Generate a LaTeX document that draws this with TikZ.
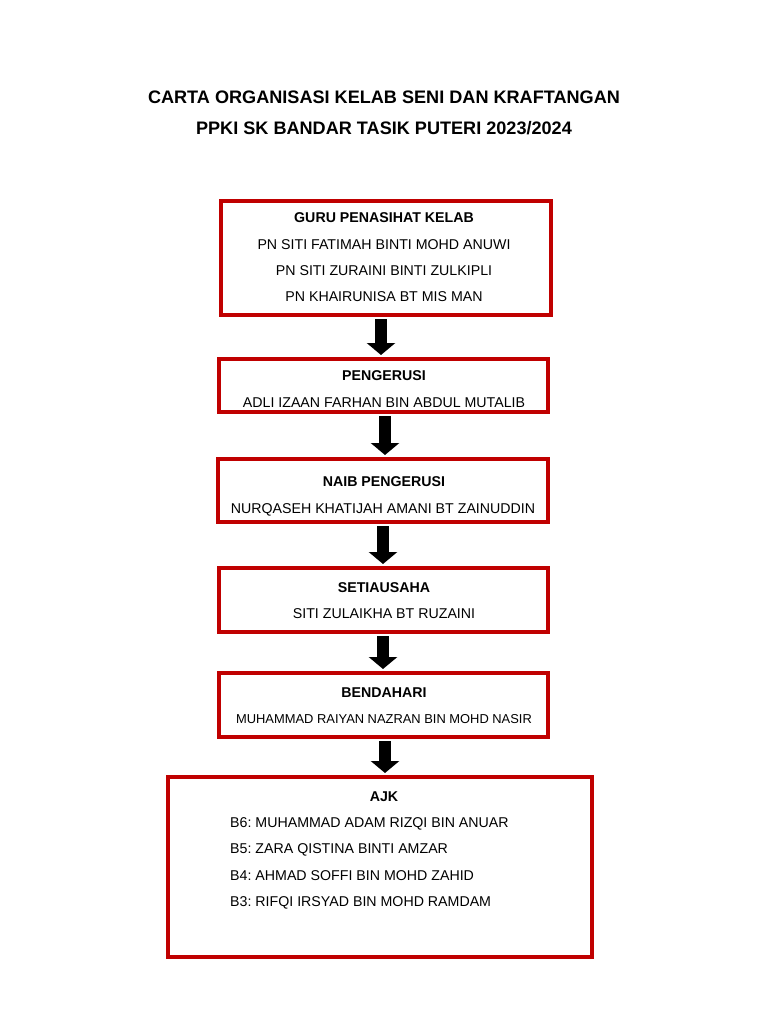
\documentclass[tikz,border=0pt]{standalone}
\usepackage{fontspec}
\setmainfont{Liberation Sans}
\usetikzlibrary{arrows.meta}
\definecolor{boxred}{HTML}{C00000}
\frenchspacing
\begin{document}
\begin{tikzpicture}[x=1pt,y=-1pt,
  box/.style={draw=boxred,line width=4pt,fill=white,inner sep=0pt},
  txt/.style={font=\fontsize{14.2}{16}\selectfont,inner sep=0pt,anchor=base},
  head/.style={txt,font=\bfseries\fontsize{14.2}{16}\selectfont},
  small/.style={txt,font=\fontsize{12.9}{15}\selectfont},
  ttl/.style={font=\bfseries\fontsize{18.1}{20}\selectfont,inner sep=0pt,anchor=base},
  blockarrow/.style={line width=12pt,-{Triangle[width=28pt,length=12pt]},shorten <=2pt,shorten >=2pt}
]
\useasboundingbox (0,0) rectangle (768,1024);
% title
\node[ttl] (t1) at (384,103.5) {CARTA ORGANISASI KELAB SENI DAN KRAFTANGAN};
\node[ttl] (t2) at (384,134.5) {PPKI SK BANDAR TASIK PUTERI 2023/2024};
% boxes
\node[box,minimum width=330pt,minimum height=114pt] (guru) at (386,258) {};
\node[box,minimum width=329pt,minimum height=53pt] (peng) at (383.5,385.5) {};
\node[box,minimum width=330pt,minimum height=63pt] (naib) at (383,490.5) {};
\node[box,minimum width=329pt,minimum height=64pt] (setia) at (383.5,600) {};
\node[box,minimum width=329pt,minimum height=64pt] (bend) at (383.5,705) {};
\node[box,minimum width=424pt,minimum height=180pt] (ajk) at (380,867) {};
% arrows
\draw[blockarrow] ([xshift=-5pt]guru.south) -- ([xshift=-2.5pt]peng.north);
\draw[blockarrow] ([xshift=1.5pt]peng.south) -- ([xshift=2pt]naib.north);
\draw[blockarrow] ([xshift=0pt]naib.south) -- ([xshift=-0.5pt]setia.north);
\draw[blockarrow] ([xshift=-0.5pt]setia.south) -- ([xshift=-0.5pt]bend.north);
\draw[blockarrow] ([xshift=1.5pt]bend.south) -- ([xshift=5pt]ajk.north);
% texts
\node[head] (g0) at (384,222.5) {GURU PENASIHAT KELAB};
\node[txt] (g1) at (384,249.5) {PN SITI FATIMAH BINTI MOHD ANUWI};
\node[txt] (g2) at (384,275.5) {PN SITI ZURAINI BINTI ZULKIPLI};
\node[txt] (g3) at (384,301.5) {PN KHAIRUNISA BT MIS MAN};
\node[head] (p0) at (384,380.5) {PENGERUSI};
\node[txt] (p1) at (384,407.5) {ADLI IZAAN FARHAN BIN ABDUL MUTALIB};
\node[head] (n0) at (384,486.5) {NAIB PENGERUSI};
\node[txt] (n1) at (383,513.5) {NURQASEH KHATIJAH AMANI BT ZAINUDDIN};
\node[head] (s0) at (384,592.5) {SETIAUSAHA};
\node[txt] (s1) at (384,618.5) {SITI ZULAIKHA BT RUZAINI};
\node[head] (b0) at (384,697.5) {BENDAHARI};
\node[small] (b1) at (384,723) {MUHAMMAD RAIYAN NAZRAN BIN MOHD NASIR};
\node[head] (a0) at (384,801.5) {AJK};
\node[txt,anchor=base west] (a1) at (230,827.5) {B6: MUHAMMAD ADAM RIZQI BIN ANUAR};
\node[txt,anchor=base west] (a2) at (230,853.5) {B5: ZARA QISTINA BINTI AMZAR};
\node[txt,anchor=base west] (a3) at (230,880.5) {B4: AHMAD SOFFI BIN MOHD ZAHID};
\node[txt,anchor=base west] (a4) at (230,906.5) {B3: RIFQI IRSYAD BIN MOHD RAMDAM};
\end{tikzpicture}
\end{document}
